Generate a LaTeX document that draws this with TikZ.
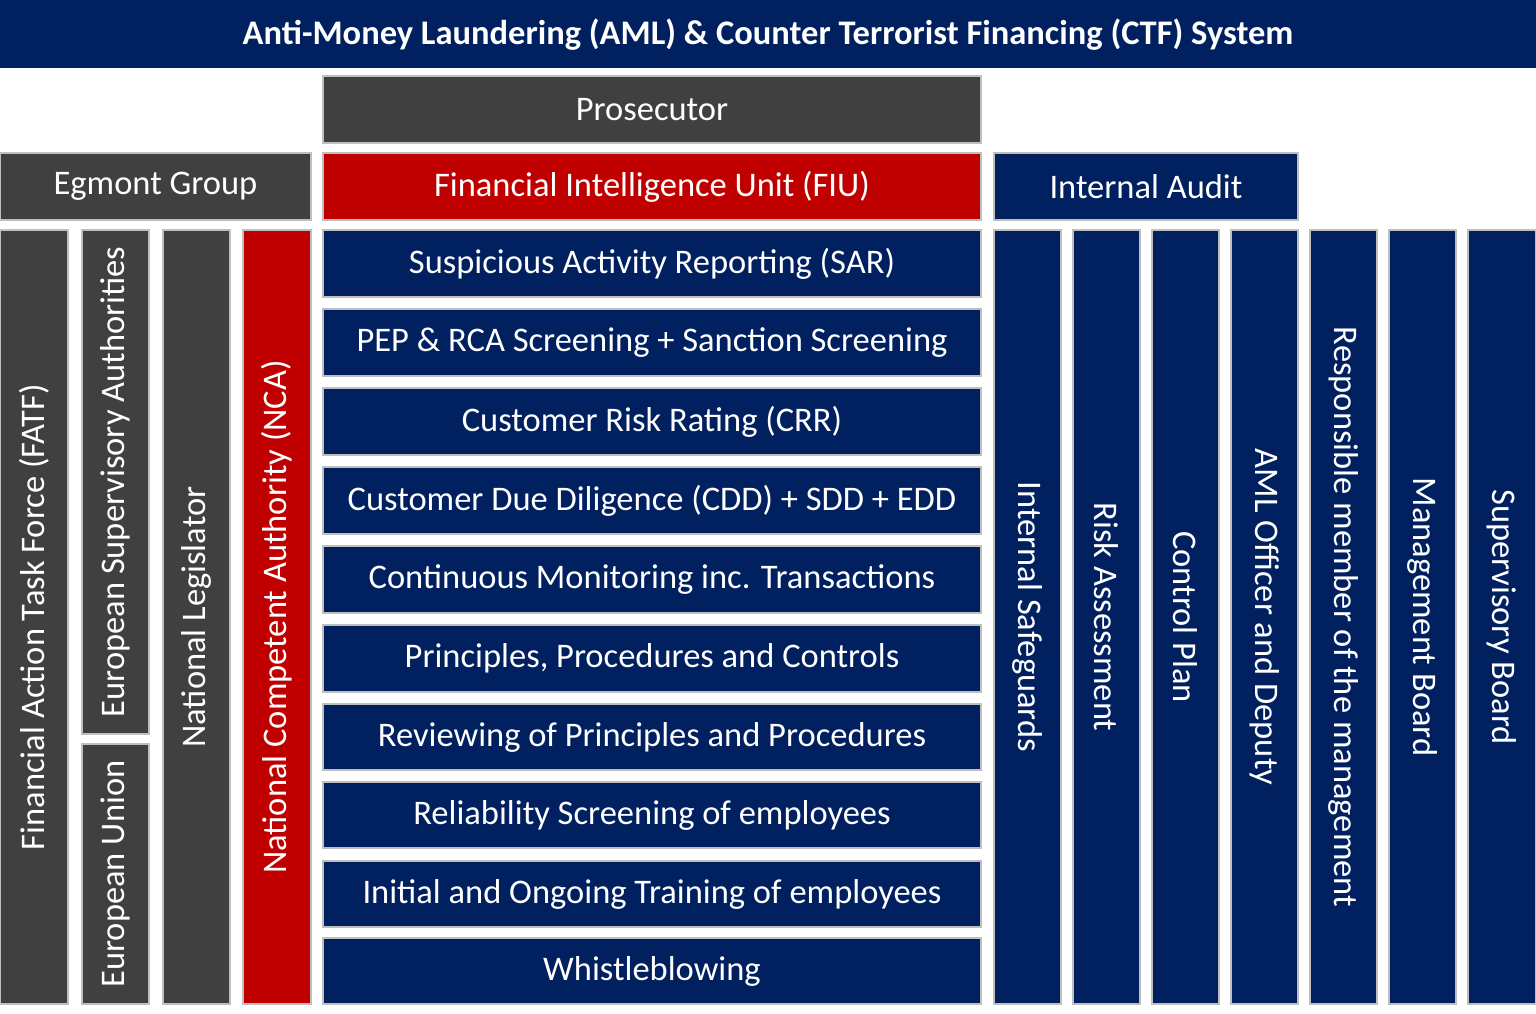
\documentclass[tikz,border=0pt]{standalone}
\usepackage{fontspec}
\setmainfont{Carlito}
\definecolor{navy}{RGB}{0,32,96}
\definecolor{dred}{RGB}{192,0,0}
\definecolor{dgray}{RGB}{64,64,64}
\tikzset{boxtxt/.style={text=white,font=\fontsize{34.5}{38}\selectfont,inner sep=0pt,anchor=center}}
% \bx{name}{x1}{y1}{x2}{y2}{color}{rotate}{text}  (pixel coords, y down)
\newcommand{\bx}[8]{%
  \fill[#6,draw=gray!50,line width=1.2pt] (#2pt,-#3pt) rectangle (#4pt,-#5pt);
  \node[boxtxt,rotate=#7] (#1) at ({(#2+#4)/2*1pt},{-(#3+#5)/2*1pt}) {#8};}
\begin{document}
\begin{tikzpicture}
\useasboundingbox (0,0) rectangle (1536pt,-1013pt);
\fill[white] (0,0) rectangle (1536pt,-1013pt);
\fill[navy] (0,0) rectangle (1536pt,-68pt);
\node[boxtxt,font=\bfseries\fontsize{34.5}{38}\selectfont] (title) at (768pt,-35pt) {Anti-Money Laundering (AML) \& Counter Terrorist Financing (CTF) System};
\bx{pros}{323}{76}{981}{143}{dgray}{0}{Prosecutor}
\bx{egm}{0}{153}{311}{220}{dgray}{0}{Egmont Group}
\bx{fiu}{323}{153}{981}{220}{dred}{0}{Financial Intelligence Unit (FIU)}
\bx{ia}{994}{153}{1298}{220}{navy}{0}{Internal Audit}
\bx{r1}{323}{230}{981}{297}{navy}{0}{Suspicious Activity Reporting (SAR)}
\bx{r2}{323}{309}{981}{376}{navy}{0}{PEP \& RCA Screening + Sanction Screening}
\bx{r3}{323}{388}{981}{455}{navy}{0}{Customer Risk Rating (CRR)}
\bx{r4}{323}{467}{981}{534}{navy}{0}{Customer Due Diligence (CDD) + SDD + EDD}
\bx{r5}{323}{546}{981}{613}{navy}{0}{Continuous Monitoring inc. Transactions}
\bx{r6}{323}{625}{981}{692}{navy}{0}{Principles, Procedures and Controls}
\bx{r7}{323}{704}{981}{770}{navy}{0}{Reviewing of Principles and Procedures}
\bx{r8}{323}{782}{981}{848}{navy}{0}{Reliability Screening of employees}
\bx{r9}{323}{861}{981}{927}{navy}{0}{Initial and Ongoing Training of employees}
\bx{r10}{323}{938}{981}{1004}{navy}{0}{Whistleblowing}
\bx{fatf}{0}{230}{68}{1004}{dgray}{90}{Financial Action Task Force (FATF)}
\bx{esa}{82}{230}{149}{734}{dgray}{90}{European Supervisory Authorities}
\bx{eu}{82}{744}{149}{1004}{dgray}{90}{European Union}
\bx{nl}{163}{230}{230}{1004}{dgray}{90}{National Legislator}
\bx{nca}{243}{230}{311}{1004}{dred}{90}{National Competent Authority (NCA)}
\bx{c1}{994}{230}{1061}{1004}{navy}{-90}{Internal Safeguards}
\bx{c2}{1073}{230}{1140}{1004}{navy}{-90}{Risk Assessment}
\bx{c3}{1152}{230}{1219}{1004}{navy}{-90}{Control Plan}
\bx{c4}{1231}{230}{1298}{1004}{navy}{-90}{AML Officer and Deputy}
\bx{c5}{1310}{230}{1377}{1004}{navy}{-90}{Responsible member of the management}
\bx{c6}{1389}{230}{1456}{1004}{navy}{-90}{Management Board}
\bx{c7}{1468}{230}{1536}{1004}{navy}{-90}{Supervisory Board}
\end{tikzpicture}
\end{document}
